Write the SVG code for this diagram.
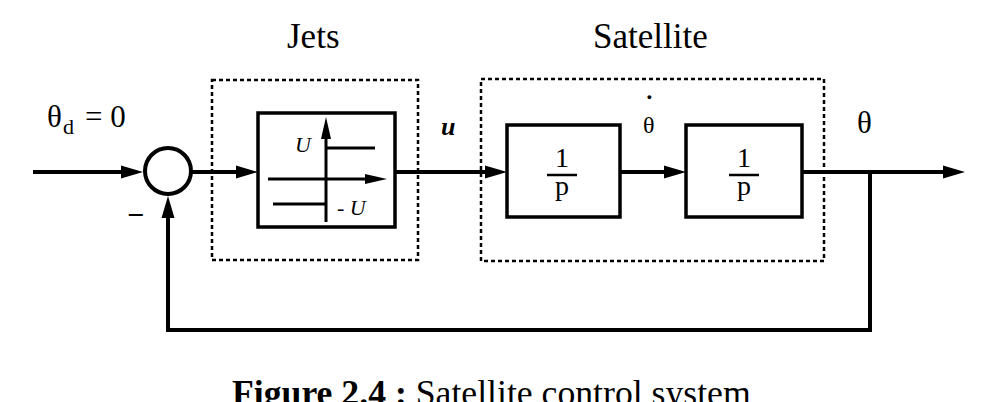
<svg xmlns="http://www.w3.org/2000/svg" width="984" height="402" viewBox="0 0 984 402">
<style>
.ln{fill:none;stroke:#000;stroke-width:4}
.blk{fill:#fff;stroke:#000;stroke-width:3.5}
.dash{fill:none;stroke:#000;stroke-width:2.5;stroke-dasharray:4 3}
.thin{fill:none;stroke:#000;stroke-width:3}
.bar{stroke:#000;stroke-width:2.5}
text{font-family:"Liberation Serif","Times New Roman",serif;fill:#000}
.hd{font-size:35px}
.lbl{font-size:31px}
.it{font-style:italic}
.frac{font-size:28px;text-anchor:middle}
</style>
<defs>
<marker id="ah" markerUnits="userSpaceOnUse" markerWidth="24" markerHeight="16" refX="10" refY="8" orient="auto">
<path d="M0,1.5 L22,8 L0,14.5 z" fill="#000"/>
</marker>
<marker id="ahs" markerUnits="userSpaceOnUse" markerWidth="24" markerHeight="12" refX="10" refY="6" orient="auto">
<path d="M0,1 L22,6 L0,11 z" fill="#000"/>
</marker>
</defs>

<g id="labels">
<text class="hd" x="287" y="48">Jets</text>
<text class="hd" x="593" y="48">Satellite</text>
<text class="lbl" x="47" y="127">θ</text>
<text x="63" y="134" font-size="22">d</text>
<text class="lbl" x="85" y="127">= 0</text>
<text x="441" y="135" font-size="26" class="it" font-weight="bold">u</text>
<text x="643" y="133" font-size="24">θ<tspan x="645" y="113" font-size="26" font-weight="bold">˙</tspan></text>
<text class="lbl" x="857" y="133">θ</text>
<text x="127" y="225" font-size="30" font-weight="bold">−</text>
</g>

<g id="connectors">
<path class="ln" d="M33,172 H131" marker-end="url(#ah)"/>
<path class="ln" d="M192,172 H246" marker-end="url(#ah)"/>
<path class="ln" d="M395,172 H495" marker-end="url(#ah)"/>
<path class="ln" d="M620,172 H674" marker-end="url(#ah)"/>
<path class="ln" d="M802,172 H953" marker-end="url(#ah)"/>
<path class="ln" d="M870,172 V330 H168 V208" marker-end="url(#ah)"/>
</g>

<g id="sum">
<circle cx="168" cy="171" r="23" fill="#fff" stroke="#000" stroke-width="4"/>
</g>

<g id="jets-group">
<rect class="dash" x="212" y="80" width="206" height="180"/>
</g>
<g id="jets">
<rect class="blk" x="258" y="113" width="137" height="114"/>
<path class="thin" d="M326,222 V129" marker-end="url(#ahs)"/>
<path class="thin" d="M268,179 H375" marker-end="url(#ahs)"/>
<path class="thin" d="M326,148 H375"/>
<path class="thin" d="M273,204 H326"/>
<text x="295" y="152" font-size="22" class="it">U</text>
<text x="337" y="215" font-size="22" class="it">- U</text>
</g>

<g id="satellite-group">
<rect class="dash" x="481" y="79" width="343" height="182"/>
</g>
<g id="integrator1">
<rect class="blk" x="507" y="125" width="113" height="92"/>
<text class="frac" x="562" y="167">1</text>
<line class="bar" x1="547" y1="175" x2="577" y2="175"/>
<text class="frac" x="562" y="195">p</text>
</g>
<g id="integrator2">
<rect class="blk" x="686" y="125" width="116" height="92"/>
<text class="frac" x="744" y="167">1</text>
<line class="bar" x1="729" y1="175" x2="759" y2="175"/>
<text class="frac" x="744" y="195">p</text>
</g>

<g id="caption">
<text x="232" y="405" font-size="35.7"><tspan font-weight="bold">Figure 2.4 :</tspan> Satellite control system</text>
</g>
</svg>
